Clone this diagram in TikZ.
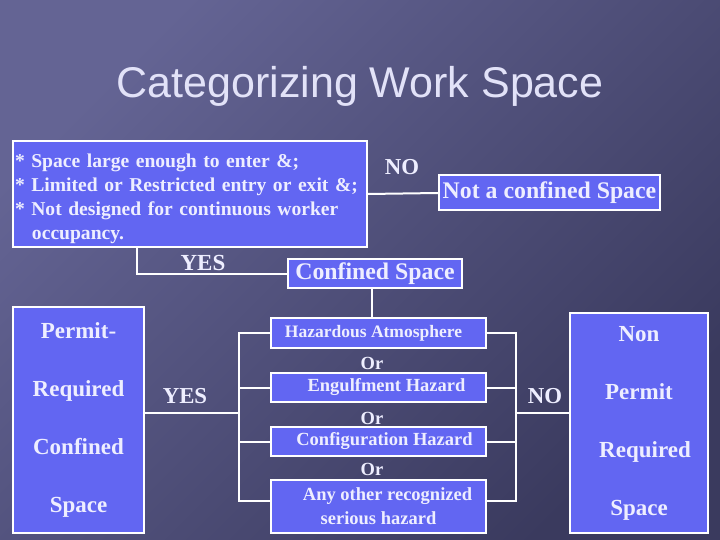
\documentclass[tikz,border=0pt]{standalone}
\usepackage{fontspec}
\setmainfont{Liberation Serif}
\newfontfamily\titlefont{Liberation Sans}

\definecolor{bgtop}{RGB}{100,100,148}
\definecolor{bgbottom}{RGB}{58,58,94}
\definecolor{boxblue}{RGB}{98,102,242}
\definecolor{paletext}{RGB}{238,238,255}
\definecolor{titletext}{RGB}{226,226,248}

\tikzset{
	flowbox/.style={draw=white, line width=2pt, fill=boxblue, text=paletext, inner sep=0pt},
	wire/.style={draw=white, line width=2pt, line cap=rect},
	lbl/.style={text=paletext, inner sep=0pt}
}

\begin{document}
\begin{tikzpicture}[x=1pt, y=-1pt]
		% Background
		\shade[top color=bgtop, bottom color=bgbottom, shading angle=45] (0,0) rectangle (720,540);
		\useasboundingbox (0,0) rectangle (720,540);

		% Title
		\node[lbl, text=titletext, font=\titlefont\fontsize{43}{50}\selectfont, anchor=base] (title) at (360,98) {Categorizing Work Space};

		% Criteria and first split
		\node[flowbox, anchor=north west, text width=350pt, inner xsep=2pt, minimum height=106pt, align=left,
			font=\bfseries\fontsize{19.6}{24.2}\selectfont] (criteria) at (12,140)
			{\rule{0pt}{23pt}* Space large enough to enter \&;\\
			{*} Limited or Restricted entry or exit \&;\\
			{*} Not designed for continuous worker\\
			\hspace*{17pt}occupancy.};
		\node[flowbox, minimum width=221pt, minimum height=35pt, font=\bfseries\fontsize{23.8}{28}\selectfont] (notconf) at (549.5,193) {Not a confined Space};
		\node[flowbox, minimum width=174pt, minimum height=29pt, font=\bfseries\fontsize{23.8}{28}\selectfont] (confined) at (375,273.5) {Confined Space};
		\node[lbl, font=\bfseries\fontsize{22.8}{26}\selectfont] (noTop) at (402,167) {NO};
		\node[lbl, font=\bfseries\fontsize{23}{26}\selectfont] (yesTop) at (203,263) {YES};

		% Hazards
		\begin{scope}[every node/.append style={font=\bfseries\fontsize{18.5}{24}\selectfont}]
			\node[flowbox, minimum width=215pt, minimum height=30pt, font=\bfseries\fontsize{17.5}{24}\selectfont] (hazA) at (378.5,333) {Hazardous Atmosphere\hspace*{10pt}};
			\node[flowbox, minimum width=215pt, minimum height=29pt] (hazB) at (378.5,387.5) {\hspace*{16pt}Engulfment Hazard};
			\node[flowbox, minimum width=215pt, minimum height=29pt] (hazC) at (378.5,441.5) {\hspace*{12pt}Configuration Hazard};
			\node[flowbox, minimum width=215pt, minimum height=53pt, align=center] (hazD) at (378.5,506.5) {\hspace*{18pt}Any other recognized\\serious hazard};
			\node[lbl] (orA) at (372,363) {Or};
			\node[lbl] (orB) at (372,418) {Or};
			\node[lbl] (orC) at (372,469) {Or};
		\end{scope}

		% Outcomes
		\node[flowbox, minimum width=131pt, minimum height=226pt, align=center, font=\bfseries\fontsize{23}{58}\selectfont] (permit) at (78.5,420)
			{Permit-\\Required\\Confined\\Space};
		\node[flowbox, minimum width=138pt, minimum height=220pt, align=center, font=\bfseries\fontsize{23}{58}\selectfont] (nonpermit) at (639,423)
			{Non\\Permit\\\hspace*{12pt}Required\\Space};
		\node[lbl, font=\bfseries\fontsize{22.8}{26}\selectfont] (yesLow) at (185,396) {YES};
		\node[lbl, font=\bfseries\fontsize{22.8}{26}\selectfont] (noLow) at (545,396) {NO};

		% Connectors
		\coordinate (yesknee) at (137,274);
		\coordinate (lbus) at (239,413);
		\coordinate (rbus) at (516,413);
		\draw[wire] (criteria.east) -- (notconf.west);
		\draw[wire] (criteria.south -| yesknee) |- (confined.west);
		\draw[wire] (confined.south -| 372,0) -- (hazA.north -| 372,0);
		\foreach \h in {hazA,hazB,hazC} {
			\draw[wire] (\h.west) -- (\h.west -| lbus);
			\draw[wire] (\h.east) -- (\h.east -| rbus);
		}
		\draw[wire] ([yshift=6pt]hazD.west) -- ([yshift=6pt]hazD.west -| lbus);
		\draw[wire] ([yshift=6pt]hazD.east) -- ([yshift=6pt]hazD.east -| rbus);
		\draw[wire] (hazA.west -| lbus) -- ([yshift=6pt]hazD.west -| lbus);
		\draw[wire] (hazA.east -| rbus) -- ([yshift=6pt]hazD.east -| rbus);
		\draw[wire] (permit.east |- lbus) -- (lbus);
		\draw[wire] (rbus) -- (rbus -| nonpermit.west);
	\end{tikzpicture}
\end{document}
